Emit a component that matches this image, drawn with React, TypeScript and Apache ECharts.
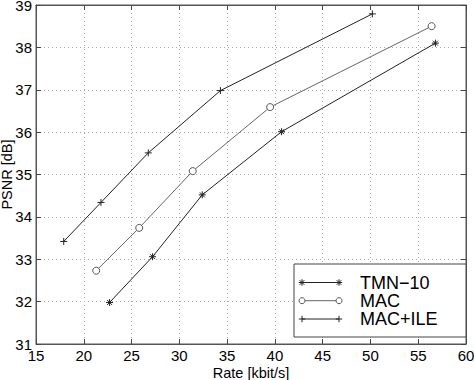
import React, { useEffect, useRef } from "react";
import * as echarts from "echarts";

const tmnRate = [22.7, 27.2, 32.4, 40.7, 56.8];
const tmnPsnr = [31.98, 33.06, 34.52, 36.01, 38.1];
const macRate = [21.3, 25.8, 31.4, 39.5, 56.4];
const macPsnr = [32.73, 33.74, 35.08, 36.59, 38.5];
const ileRate = [17.9, 21.8, 26.75, 34.3, 50.2];
const ilePsnr = [33.42, 34.34, 35.51, 36.98, 38.79];
const seriesNames = ["TMN\u221210", "MAC", "MAC+ILE"];

const STAR = "path://M0,5L10,5M5,0L5,10M1.5,1.5L8.5,8.5M8.5,1.5L1.5,8.5";
const PLUS = "path://M0,5L10,5M5,0L5,10";

const zip = (a: number[], b: number[]) => a.map((v, i) => [v, b[i]]);

export default function App() {
  const ref = useRef<HTMLDivElement>(null);
  useEffect(() => {
    const chart = echarts.init(ref.current!, null, { renderer: "svg" });
    const font = "Liberation Sans, Arial, Helvetica, sans-serif";
    const xBase = { type: "value", min: 15, max: 60, interval: 5 };
    const yBase = { type: "value", min: 31, max: 39, interval: 1 };
    const tick = { show: true, inside: true, length: 5, lineStyle: { color: "#444" } };
    const lgX = 294, lgY = 264, lgW = 172, lgH = 73;
    const rows = [282.5, 300.7, 319];
    const lx1 = 302, lx2 = 339;
    const lineCol = ["#222", "#666", "#222"];
    const legendEls: any[] = [
      { type: "rect", shape: { x: lgX, y: lgY, width: lgW, height: lgH }, style: { fill: "#fff", stroke: "#444", lineWidth: 1 }, z: 100 },
    ];
    rows.forEach((y, i) => {
      legendEls.push({ type: "line", shape: { x1: lx1, y1: y, x2: lx2, y2: y }, style: { stroke: lineCol[i], lineWidth: 1 }, z: 101 });
      [lx1, lx2].forEach((x) => {
        if (i === 1) {
          legendEls.push({ type: "circle", shape: { cx: x, cy: y, r: 3 }, style: { fill: "#fff", stroke: "#555", lineWidth: 1 }, z: 102 });
        } else {
          const s = 3.2;
          legendEls.push({ type: "line", shape: { x1: x - s, y1: y, x2: x + s, y2: y }, style: { stroke: "#222", lineWidth: 1 }, z: 102 });
          legendEls.push({ type: "line", shape: { x1: x, y1: y - s, x2: x, y2: y + s }, style: { stroke: "#222", lineWidth: 1 }, z: 102 });
          if (i === 0) {
            const d = 2.3;
            legendEls.push({ type: "line", shape: { x1: x - d, y1: y - d, x2: x + d, y2: y + d }, style: { stroke: "#222", lineWidth: 1 }, z: 102 });
            legendEls.push({ type: "line", shape: { x1: x + d, y1: y - d, x2: x - d, y2: y + d }, style: { stroke: "#222", lineWidth: 1 }, z: 102 });
          }
        }
      });
      legendEls.push({
        type: "text",
        x: 360,
        y: y,
        style: { text: seriesNames[i], font: `18px ${font}`, fill: "#000", verticalAlign: "middle" },
        z: 102,
      });
    });

    chart.setOption({
      animation: false,
      backgroundColor: "#fff",
      grid: {
        left: 36, right: 8, top: 5, bottom: 36,
        containLabel: false,
        outerBoundsMode: "none",
        show: true, borderColor: "#555", borderWidth: 1, backgroundColor: "transparent",
      },
      xAxis: [
        {
          ...xBase,
          position: "bottom",
          name: "Rate [kbit/s]",
          nameLocation: "middle",
          nameGap: 21,
          nameMoveOverlap: false,
          nameTextStyle: { fontFamily: font, fontSize: 14.5, color: "#000" },
          axisLine: { show: true, lineStyle: { color: "#555" } },
          axisTick: tick,
          axisLabel: { fontFamily: font, fontSize: 15, color: "#000", margin: 4 },
          splitLine: { show: true, lineStyle: { color: "#aaa", type: [1, 3], width: 1 } },
        },
        {
          ...xBase,
          position: "top",
          axisLine: { show: true, lineStyle: { color: "#555" } },
          axisTick: tick,
          axisLabel: { show: false },
          splitLine: { show: false },
        },
      ],
      yAxis: [
        {
          ...yBase,
          position: "left",
          name: "PSNR [dB]",
          nameLocation: "middle",
          nameGap: 22,
          nameMoveOverlap: false,
          nameTextStyle: { fontFamily: font, fontSize: 14.5, color: "#000" },
          axisLine: { show: true, lineStyle: { color: "#555" } },
          axisTick: tick,
          axisLabel: { fontFamily: font, fontSize: 15, color: "#000", margin: 4 },
          splitLine: { show: true, lineStyle: { color: "#aaa", type: [1, 3], width: 1 } },
        },
        {
          ...yBase,
          position: "right",
          axisLine: { show: true, lineStyle: { color: "#555" } },
          axisTick: tick,
          axisLabel: { show: false },
          splitLine: { show: false },
        },
      ],
      series: [
        {
          name: seriesNames[0],
          type: "line",
          data: zip(tmnRate, tmnPsnr),
          symbol: STAR,
          symbolSize: 7,
          lineStyle: { color: "#222", width: 1 },
          itemStyle: { color: "transparent", borderColor: "#222", borderWidth: 1 },
        },
        {
          name: seriesNames[1],
          type: "line",
          data: zip(macRate, macPsnr),
          symbol: "circle",
          symbolSize: 7,
          lineStyle: { color: "#666", width: 1 },
          itemStyle: { color: "#fff", borderColor: "#555", borderWidth: 1 },
        },
        {
          name: seriesNames[2],
          type: "line",
          data: zip(ileRate, ilePsnr),
          symbol: PLUS,
          symbolSize: 7,
          lineStyle: { color: "#222", width: 1 },
          itemStyle: { color: "transparent", borderColor: "#222", borderWidth: 1 },
        },
      ],
      graphic: legendEls,
    });
    return () => chart.dispose();
  }, []);
  return <div ref={ref} style={{ position: "fixed", left: 0, top: 0, width: 474, height: 380 }} />;
}
